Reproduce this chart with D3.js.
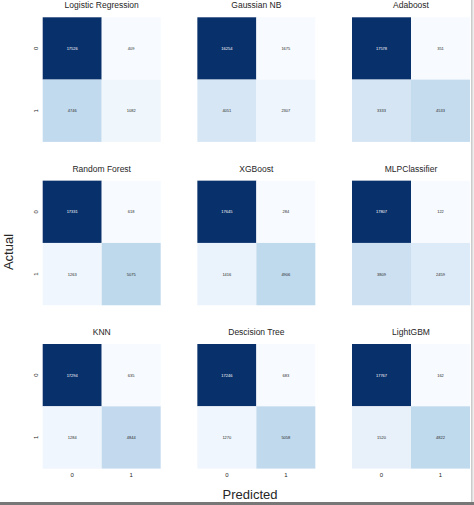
<!DOCTYPE html>
<html>
<head>
<meta charset="utf-8">
<script src="https://cdn.jsdelivr.net/npm/d3@7"></script>
<style>
html,body{margin:0;padding:0;background:#fff;}
svg{display:block;font-family:"Liberation Sans",Arial,Helvetica,sans-serif;}
</style>
</head>
<body>
<svg id="chart" width="474" height="505"></svg>
<script>
const models = ["Logistic Regression","Gaussian NB","Adaboost","Random Forest","XGBoost","MLPClassifier","KNN","Descision Tree","LightGBM"];
const trueNeg  = [17526, 16254, 17578, 17331, 17645, 17807, 17294, 17246, 17767];
const falsePos = [409, 1675, 351, 618, 284, 122, 635, 683, 162];
const falseNeg = [4746, 4051, 3333, 1263, 1416, 3809, 1284, 1270, 1520];
const truePos  = [1082, 2307, 4533, 5075, 4906, 2459, 4844, 5058, 4822];
const classLabels = ["0","1"];

const svg = d3.select("#chart");
const W = 474, H = 505;

// grid layout
const colX = d3.scalePoint().domain([0,1,2]).range([42.7, 352]);
const rowY = d3.scalePoint().domain([0,1,2]).range([17.3, 344]);
const cellW = 59, cellH = 62.3;

models.forEach((name, i) => {
  const r = Math.floor(i/3), c = i % 3;
  const g = svg.append("g").attr("transform", `translate(${colX(c)},${rowY(r)})`);
  const x = d3.scaleBand().domain(classLabels).range([0, cellW*2]);
  const y = d3.scaleBand().domain(classLabels).range([0, cellH*2]);
  const cells = [
    {a:"0", p:"0", v:trueNeg[i]},
    {a:"0", p:"1", v:falsePos[i]},
    {a:"1", p:"0", v:falseNeg[i]},
    {a:"1", p:"1", v:truePos[i]}
  ];
  const ext = d3.extent(cells, d => d.v);
  const color = d3.scaleSequential(d3.interpolateBlues).domain(ext);
  g.selectAll("rect").data(cells).join("rect")
    .attr("x", d => x(d.p)).attr("y", d => y(d.a))
    .attr("width", x.bandwidth()).attr("height", y.bandwidth())
    .attr("fill", d => color(d.v));
  g.selectAll("text.val").data(cells).join("text")
    .attr("class","val")
    .attr("x", d => x(d.p) + x.bandwidth()/2)
    .attr("y", d => y(d.a) + y.bandwidth()/2)
    .attr("text-anchor","middle").attr("dominant-baseline","central")
    .attr("font-size", 4)
    .attr("fill", d => (d.v - ext[0])/(ext[1]-ext[0]) > 0.5 ? "#ffffff" : "#262626")
    .text(d => d.v);
  g.append("text")
    .attr("x", cellW).attr("y", -9)
    .attr("text-anchor","middle")
    .attr("font-size", 8.5).attr("fill","#262626")
    .text(name);
  if (c === 0) {
    classLabels.forEach(l => {
      g.append("text")
        .attr("transform", `translate(${-5},${y(l)+y.bandwidth()/2}) rotate(-90)`)
        .attr("text-anchor","middle")
        .attr("font-size", 6).attr("fill","#262626")
        .text(l);
    });
  }
  if (r === 2) {
    classLabels.forEach(l => {
      g.append("text")
        .attr("x", x(l)+x.bandwidth()/2).attr("y", cellH*2 + 8)
        .attr("text-anchor","middle")
        .attr("font-size", 6).attr("fill","#262626")
        .text(l);
    });
  }
});

svg.append("text")
  .attr("transform", "translate(13,252) rotate(-90)")
  .attr("text-anchor","middle").attr("font-size", 13).attr("fill","#262626")
  .text("Actual");
svg.append("text")
  .attr("x", 250).attr("y", 499)
  .attr("text-anchor","middle").attr("font-size", 13).attr("fill","#262626")
  .text("Predicted");
svg.append("rect").attr("x",472).attr("y",0).attr("width",2).attr("height",H).attr("fill","#eeeeee");
svg.append("rect").attr("x",471.3).attr("y",0).attr("width",1).attr("height",H).attr("fill","#b5b5b5");
svg.append("rect").attr("x",0).attr("y",502).attr("width",W).attr("height",3).attr("fill","#777");
</script>
</body>
</html>
